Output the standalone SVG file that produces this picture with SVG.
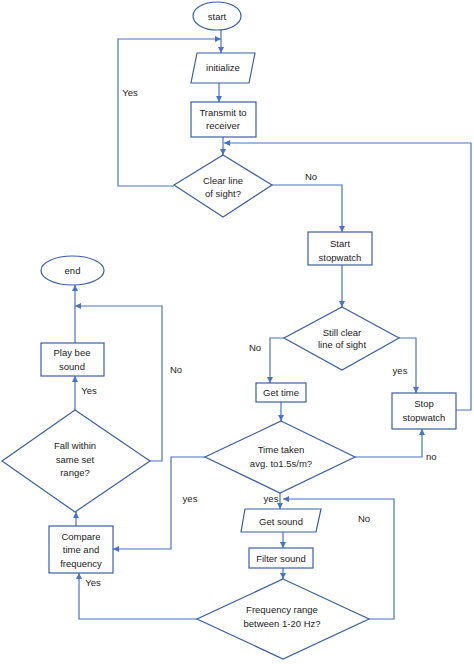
<svg xmlns="http://www.w3.org/2000/svg" width="474" height="664" viewBox="0 0 474 664">
<style>
.n{fill:#fff;stroke:#3b5f9e;stroke-width:1.2}
.c{fill:none;stroke:#4a72c0;stroke-width:1.2}
text{font-family:"Liberation Sans",Arial,sans-serif;font-size:9.5px;fill:#222;text-anchor:middle}
.l{text-anchor:start}
</style>
<defs>
<marker id="a" markerWidth="6" markerHeight="6" refX="6" refY="3" orient="auto" markerUnits="userSpaceOnUse">
<path d="M0,0 L6,3 L0,6 z" fill="#4a72c0"/>
</marker>
</defs>
<rect width="474" height="664" fill="#fff"/>
<g id="connectors">
<path class="c" d="M221,30 L221,53" marker-end="url(#a)"/>
<path class="c" d="M174,186 L118,186 L118,39 L221,39" marker-end="url(#a)"/>
<path class="c" d="M219,83 L219,102" marker-end="url(#a)"/>
<path class="c" d="M223,137 L223,155" marker-end="url(#a)"/>
<path class="c" d="M456,410 L471,410 L471,143 L224,143" marker-end="url(#a)"/>
<path class="c" d="M272,185 L342,185 L342,232" marker-end="url(#a)"/>
<path class="c" d="M342,265 L342,307" marker-end="url(#a)"/>
<path class="c" d="M284,338 L270,338 L270,383" marker-end="url(#a)"/>
<path class="c" d="M399,338 L416,338 L416,393" marker-end="url(#a)"/>
<path class="c" d="M281,402 L281,421" marker-end="url(#a)"/>
<path class="c" d="M355,457 L422,457 L422,429" marker-end="url(#a)"/>
<path class="c" d="M205,457 L171,457 L171,549 L113,549" marker-end="url(#a)"/>
<path class="c" d="M280,493 L280,509" marker-end="url(#a)"/>
<path class="c" d="M369,619 L394,619 L394,499 L283,499" marker-end="url(#a)"/>
<path class="c" d="M283,532 L283,548" marker-end="url(#a)"/>
<path class="c" d="M283,568 L283,579" marker-end="url(#a)"/>
<path class="c" d="M197,619 L79,619 L79,573" marker-end="url(#a)"/>
<path class="c" d="M76,526 L76,512" marker-end="url(#a)"/>
<path class="c" d="M150,461 L162,461 L162,306 L75,306" marker-end="url(#a)"/>
<path class="c" d="M75,410 L75,376" marker-end="url(#a)"/>
<path class="c" d="M75,343 L75,285" marker-end="url(#a)"/>
<text x="130" y="96">Yes</text>
<text x="311" y="180">No</text>
<text x="255" y="351">No</text>
<text x="400" y="374">yes</text>
<text x="426" y="460" class="l">no</text>
<text x="190" y="502">yes</text>
<text x="271" y="502">yes</text>
<text x="364" y="522">No</text>
<text x="93" y="586">Yes</text>
<text x="89" y="394">Yes</text>
<text x="176" y="373">No</text>
</g>
<g id="start">
<ellipse class="n" cx="217" cy="16" rx="24" ry="14"/>
<text x="217" y="19.5">start</text>
</g>
<g id="initialize">
<polygon class="n" points="197,53 255,53 249,83 191,83"/>
<text x="223" y="71">initialize</text>
</g>
<g id="transmit">
<rect class="n" x="191" y="102" width="65" height="35"/>
<text x="223" y="116">Transmit to</text>
<text x="223" y="129">receiver</text>
</g>
<g id="clear">
<polygon class="n" points="223,155 272,185 223,217 174,185"/>
<text x="223" y="184">Clear line</text>
<text x="223" y="197">of sight?</text>
</g>
<g id="startstopwatch">
<rect class="n" x="308" y="232" width="64" height="33"/>
<text x="340" y="247">Start</text>
<text x="340" y="261">stopwatch</text>
</g>
<g id="stillclear">
<polygon class="n" points="342,307 399,338 342,370 284,338"/>
<text x="342" y="336">Still clear</text>
<text x="342" y="348">line of sight</text>
</g>
<g id="gettime">
<rect class="n" x="256" y="383" width="50" height="19"/>
<text x="281" y="396">Get time</text>
</g>
<g id="stopstopwatch">
<rect class="n" x="392" y="393" width="64" height="36"/>
<text x="424" y="407">Stop</text>
<text x="424" y="421">stopwatch</text>
</g>
<g id="timetaken">
<polygon class="n" points="281,421 355,457 280,493 205,457"/>
<text x="281" y="453">Time taken</text>
<text x="281" y="467">avg. to1.5s/m?</text>
</g>
<g id="getsound">
<polygon class="n" points="245,509 321,509 316,532 241,532"/>
<text x="281" y="525">Get sound</text>
</g>
<g id="filter">
<rect class="n" x="249" y="548" width="64" height="20"/>
<text x="281" y="562">Filter sound</text>
</g>
<g id="frequency">
<polygon class="n" points="283,579 369,619 283,659 197,619"/>
<text x="282" y="613">Frequency range</text>
<text x="282" y="627">between 1-20 Hz?</text>
</g>
<g id="compare">
<rect class="n" x="49" y="526" width="64" height="47"/>
<text x="81" y="540">Compare</text>
<text x="81" y="553">time and</text>
<text x="81" y="567">frequency</text>
</g>
<g id="fall">
<polygon class="n" points="75,410 150,461 75,512 2,461"/>
<text x="75" y="449">Fall within</text>
<text x="75" y="463">same set</text>
<text x="75" y="476">range?</text>
</g>
<g id="playbee">
<rect class="n" x="41" y="343" width="63" height="33"/>
<text x="72" y="356">Play bee</text>
<text x="72" y="370">sound</text>
</g>
<g id="end">
<ellipse class="n" cx="72.5" cy="270.5" rx="31.5" ry="14.5"/>
<text x="72.5" y="274">end</text>
</g>
</svg>
